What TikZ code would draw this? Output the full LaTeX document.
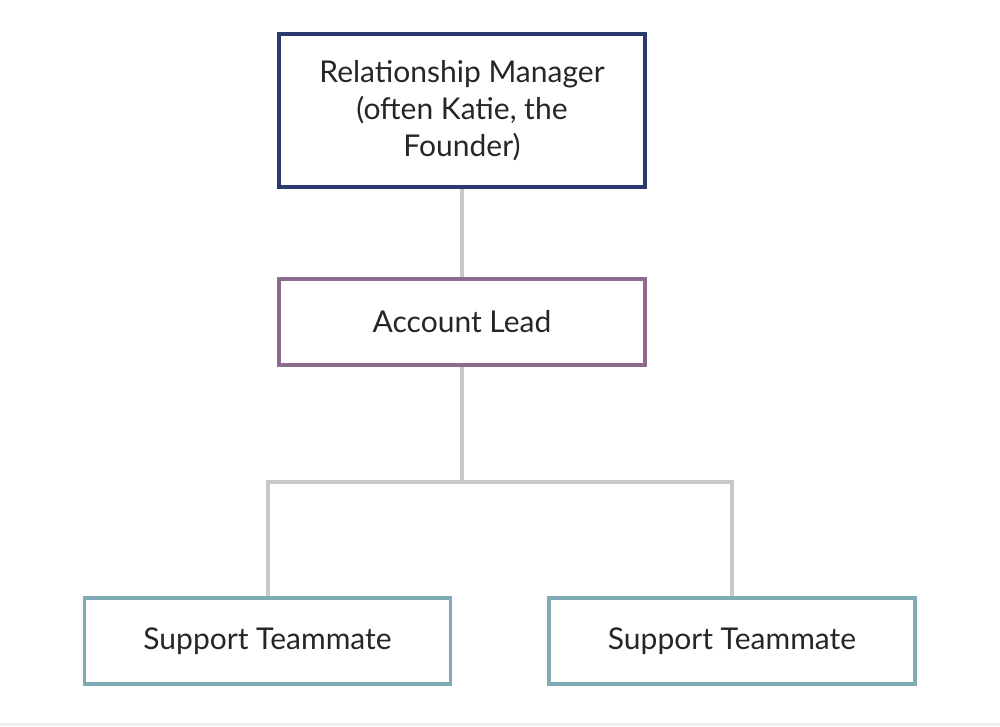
\documentclass[tikz,border=0pt]{standalone}
\usepackage{fontspec}
\setmainfont{Lato}
\usetikzlibrary{positioning}
\definecolor{manager blue}{HTML}{2B3A6E}
\definecolor{lead purple}{HTML}{8E6A8E}
\definecolor{team teal}{HTML}{7FABB5}
\definecolor{link gray}{HTML}{C8C8C8}
\tikzset{
    % Boxes
    role/.style={draw=#1,line width=3.5pt,minimum width=366pt,align=center,
        font=\fontsize{30}{37}\selectfont,text=black!85},
    % Connectors
    link/.style={draw=link gray,line width=4pt}
}
\begin{document}
\begin{tikzpicture}[x=1pt,y=1pt]
        \useasboundingbox (0,0) rectangle (1000,726);
        \fill[black!6] (0,0) rectangle (1000,3);
        
        \node[role=manager blue,minimum height=153pt] (manager) at (462,615.5) {Relationship Manager\\(often Katie, the\\Founder)};
        \node[role=lead purple,minimum height=86pt] (lead) at (462,404) {Account Lead};
        \node[role=team teal,minimum height=86pt] (mate1) at (267.5,85) {Support Teammate};
        \node[role=team teal,minimum height=86pt] (mate2) at (732,85) {Support Teammate};
        
        \coordinate (bus) at (462,244);
        \draw[link] (manager) -- (lead);
        \draw[link] (lead) -- (bus);
        \draw[link] (mate1) |- (bus) -| (mate2);
    \end{tikzpicture}
\end{document}
